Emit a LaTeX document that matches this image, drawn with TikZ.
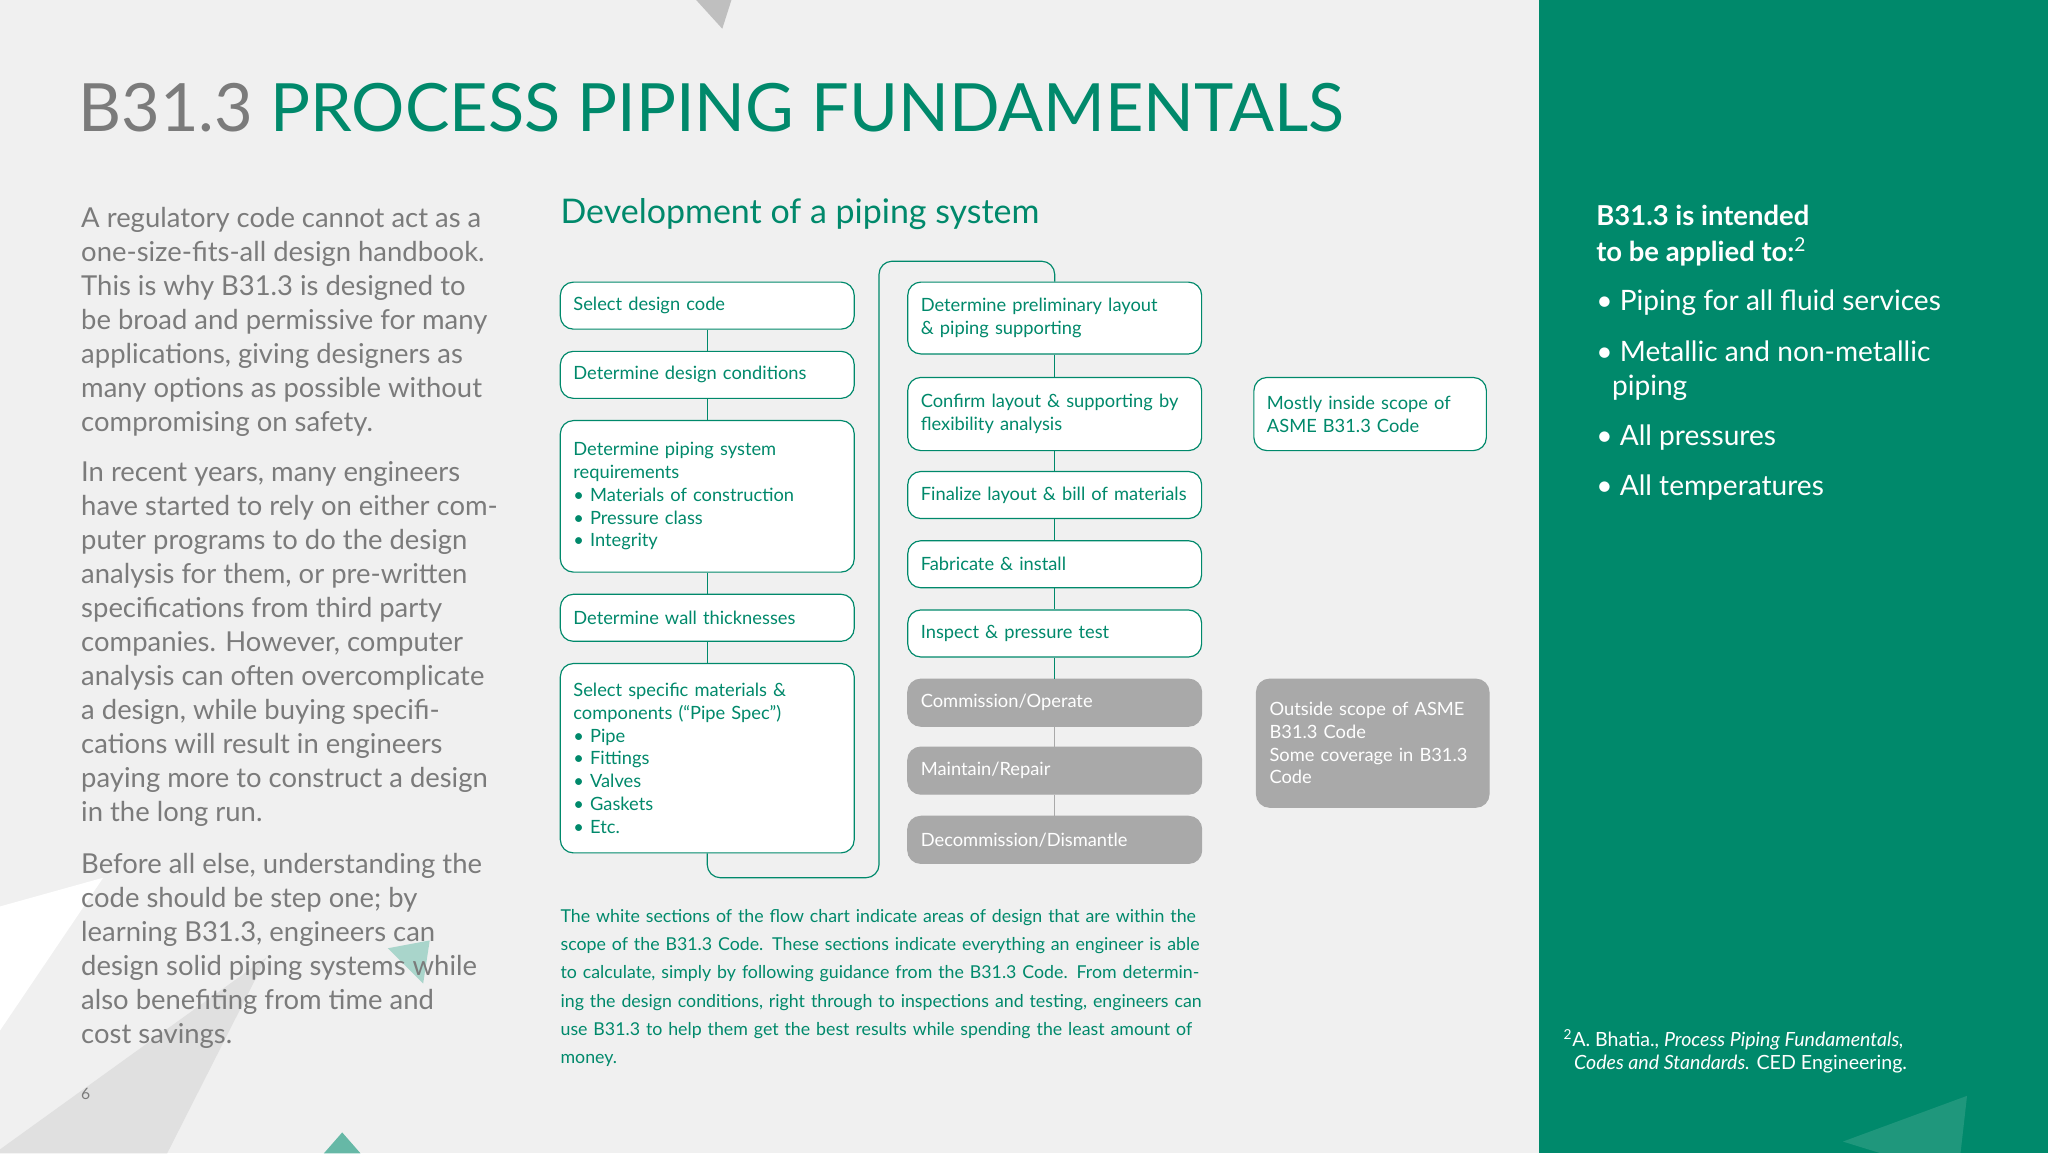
\documentclass[tikz,border=0pt]{standalone}
\usepackage{fontspec}
\setmainfont{Lato}
\definecolor{grn}{HTML}{00896B}
\definecolor{bg}{HTML}{F0F0F0}
\definecolor{gbox}{HTML}{A9A9A9}
\definecolor{txt}{HTML}{7B7B7B}
\begin{document}
\begin{tikzpicture}[x=1pt,y=-1pt,
  fbox/.style={draw=grn,line width=0.9pt,rounded corners=10pt,fill=white,minimum width=225pt,text width=205pt,inner xsep=10pt,align=left,text=grn,font=\fontsize{14}{17.4}\selectfont},
  gboxs/.style={fbox,draw=gbox,fill=gbox,text=white},
  conn/.style={draw=grn,line width=0.9pt},
  body/.style={anchor=base west,inner sep=0pt,text=txt,font=\fontsize{21}{26}\selectfont},
  rtxt/.style={anchor=base west,inner sep=0pt,text=white,font=\fontsize{21.5}{26}\selectfont}]
\useasboundingbox (0,0) rectangle (1568,883);
\fill[bg] (0,0) rectangle (1178,883);
\fill[grn] (1178,0) rectangle (1568,883);
% decorations
\fill[white] (0,694) -- (79,672) -- (0,789) -- cycle;
\fill[black!12] (204,733) -- (128,883) -- (0,883) -- (0,880) -- cycle;
\fill[grn!45,opacity=0.7] (297,726) -- (329,720) -- (324,753) -- cycle;
\fill[grn!60] (262,867) -- (276,883) -- (248,883) -- cycle;
\fill[black!25] (533,0) -- (560,0) -- (553,22) -- cycle;
\fill[white,opacity=0.12] (1411,874) -- (1506,839) -- (1501,883) -- (1440,883) -- cycle;
% title
\node[anchor=base west,inner sep=0pt,font=\fontsize{51}{60}\selectfont] (title) at (60,101) {\textcolor{txt}{B31.3} \textcolor{grn}{PROCESS PIPING FUNDAMENTALS}};
% left text
\foreach \t [count=\i] in {A regulatory code cannot act as a,one-size-fits-all design handbook.,This is why B31.3 is designed to,be broad and permissive for many,{applications, giving designers as},many options as possible without,compromising on safety.}
  \node[body] (p1\i) at (62,174+26*\i-26) {\t};
\foreach \t [count=\i] in {{In recent years, many engineers},have started to rely on either com-,puter programs to do the design,{analysis for them, or pre-written},specifications from third party,{companies. However, computer},analysis can often overcomplicate,{a design, while buying specifi-},cations will result in engineers,paying more to construct a design,in the long run.}
  \node[body] (p2\i) at (62,369+26*\i-26) {\t};
\foreach \t [count=\i] in {{Before all else, understanding the},{code should be step one; by},{learning B31.3, engineers can},design solid piping systems while,also benefiting from time and,cost savings.}
  \node[body] (p3\i) at (62,669+26*\i-26) {\t};
\node[anchor=base west,inner sep=0pt,text=txt,font=\fontsize{12}{14}\selectfont] (pg) at (62,842) {6};
% heading
\node[anchor=base west,inner sep=0pt,text=grn,font=\fontsize{26}{30}\selectfont] (h) at (429,171) {Development of a piping system};
% left column
\node[fbox,minimum height=36pt] (l1) at (541.5,234) {Select design code};
\node[fbox,minimum height=36pt] (l2) at (541.5,287) {Determine design conditions};
\node[fbox,minimum height=116pt] (l3) at (541.5,380) {Determine piping system\\requirements\\• Materials of construction\\• Pressure class\\• Integrity\\[10pt]};
\node[fbox,minimum height=36pt] (l4) at (541.5,473) {Determine wall thicknesses};
\node[fbox,minimum height=145pt] (l5) at (541.5,580.5) {Select specific materials \&\\components (“Pipe Spec”)\\• Pipe\\• Fittings\\• Valves\\• Gaskets\\• Etc.};
% right column
\node[fbox,minimum height=55pt] (r1) at (807.5,243.5) {Determine preliminary layout\\\& piping supporting};
\node[fbox,minimum height=56pt] (r2) at (807.5,317) {Confirm layout \& supporting by\\flexibility analysis};
\node[fbox,minimum height=36pt] (r3) at (807.5,379) {Finalize layout \& bill of materials};
\node[fbox,minimum height=36pt] (r4) at (807.5,432) {Fabricate \& install};
\node[fbox,minimum height=36pt] (r5) at (807.5,485) {Inspect \& pressure test};
\node[gboxs,minimum height=36pt] (r6) at (807.5,538) {Commission/Operate};
\node[gboxs,minimum height=36pt] (r7) at (807.5,590) {Maintain/Repair};
\node[gboxs,minimum height=36pt] (r8) at (807.5,643) {Decommission/Dismantle};
% side boxes
\node[fbox,minimum width=178pt,text width=158pt,minimum height=56pt] (s1) at (1049,317) {Mostly inside scope of\\ASME B31.3 Code};
\node[gboxs,minimum width=178pt,text width=158pt,minimum height=98pt] (s2) at (1051,569) {Outside scope of ASME\\B31.3 Code\\Some coverage in B31.3\\Code};
% connectors
\begin{scope}[on background layer/.style={}]
\end{scope}
\draw[conn] (l1.south) -- (l2.north);
\draw[conn] (l2.south) -- (l3.north);
\draw[conn] (l3.south) -- (l4.north);
\draw[conn] (l4.south) -- (l5.north);
\coordinate (b1) at (541.5,672);
\coordinate (b2) at (673,672);
\coordinate (b3) at (673,200);
\coordinate (b4) at (807.5,200);
\draw[conn,rounded corners=10pt] (l5.south) -- (b1) -- (b2) -- (b3) -- (b4) -- (r1.north);
\draw[conn] (r1.south) -- (r2.north);
\draw[conn] (r2.south) -- (r3.north);
\draw[conn] (r3.south) -- (r4.north);
\draw[conn] (r4.south) -- (r5.north);
\draw[conn] (r5.south) -- (r6.north);
\draw[conn,draw=gbox] (r6.south) -- (r7.north);
\draw[conn,draw=gbox] (r7.south) -- (r8.north);
% caption
\node[anchor=north west,inner sep=0pt,text width=495pt,align=left,text=grn,font=\fontsize{13.6}{21.6}\selectfont] (cap) at (429,696) {The white sections of the flow chart indicate areas of design that are within the scope of the B31.3 Code. These sections indicate everything an engineer is able to calculate, simply by following guidance from the B31.3 Code. From determining the design conditions, right through to inspections and testing, engineers can use B31.3 to help them get the best results while spending the least amount of money.};
% right panel
\node[rtxt,font=\bfseries\fontsize{21}{26}\selectfont] (rh1) at (1222,173) {B31.3 is intended};
\node[rtxt,font=\bfseries\fontsize{21}{26}\selectfont] (rh2) at (1222,200) {to be applied to:\textsuperscript{\mdseries 2}};
\node[rtxt] (rb1) at (1222,238) {• Piping for all fluid services};
\node[rtxt] (rb2) at (1222,277) {• Metallic and non-metallic};
\node[rtxt] (rb2b) at (1234,303) {piping};
\node[rtxt] (rb3) at (1222,341) {• All pressures};
\node[rtxt] (rb4) at (1222,379) {• All temperatures};
\node[rtxt,font=\fontsize{15}{18}\selectfont] (f1) at (1197,801) {\textsuperscript{2}A. Bhatia., \textit{Process Piping Fundamentals,}};
\node[rtxt,font=\fontsize{15}{18}\selectfont] (f2) at (1205,819) {\textit{Codes and Standards.} CED Engineering.};
\end{tikzpicture}
\end{document}
